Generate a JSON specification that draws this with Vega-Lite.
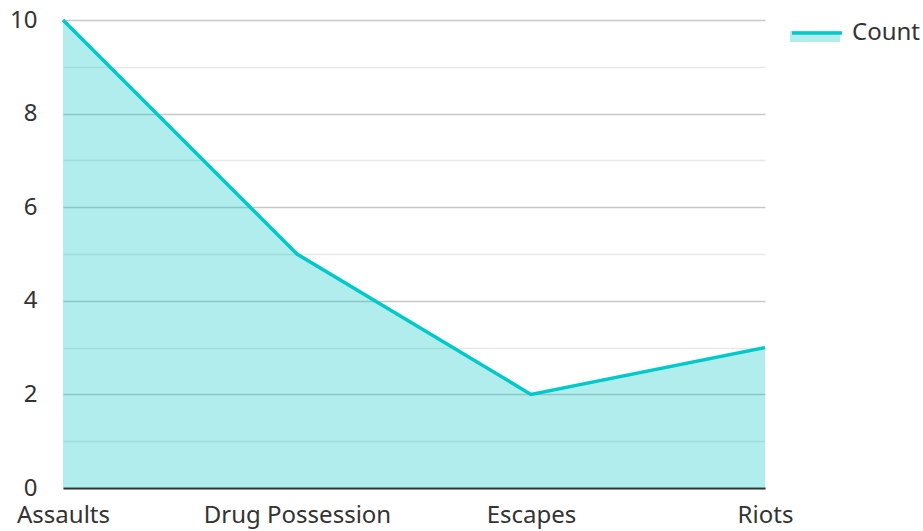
{
  "$schema": "https://vega.github.io/schema/vega-lite/v6.json",
  "width": 702,
  "height": 468,
  "autosize": {"type": "none"},
  "padding": {"left": 63, "top": 20, "right": 158, "bottom": 43},
  "background": "white",
  "config": {
    "view": {"stroke": null},
    "font": "Noto Sans",
    "axis": {"labelFont": "Noto Sans", "labelFontSize": 24, "labelColor": "#333333", "title": null, "labelLimit": 400},
    "legend": {"labelFont": "Noto Sans", "labelFontSize": 24, "labelColor": "#333333"}
  },
  "data": {
    "values": [
      {"category": "Assaults", "value": 10, "series": "Count"},
      {"category": "Drug Possession", "value": 5, "series": "Count"},
      {"category": "Escapes", "value": 2, "series": "Count"},
      {"category": "Riots", "value": 3, "series": "Count"}
    ]
  },
  "encoding": {
    "x": {
      "field": "category",
      "type": "ordinal",
      "sort": null,
      "scale": {"type": "point", "padding": 0},
      "axis": {
        "labelAngle": 0,
        "ticks": false,
        "grid": false,
        "domain": true,
        "domainColor": "#333333",
        "domainWidth": 2,
        "labelPadding": 15
      }
    },
    "y": {
      "field": "value",
      "type": "quantitative",
      "scale": {"domain": [0, 10], "nice": false},
      "axis": {
        "values": [0, 1, 2, 3, 4, 5, 6, 7, 8, 9, 10],
        "labelExpr": "datum.value % 2 === 1 ? '' : datum.label",
        "ticks": false,
        "domain": false,
        "grid": true,
        "gridColor": {"condition": {"test": "datum.value % 2 === 1", "value": "#e8e8e8"}, "value": "#c8c8c8"},
        "gridWidth": 1.5,
        "labelPadding": 26
      }
    }
  },
  "layer": [
    {
      "mark": {"type": "area", "opacity": 0.3},
      "encoding": {
        "fill": {
          "field": "series",
          "type": "nominal",
          "scale": {"range": ["#00C5C5"]},
          "legend": {
            "title": null,
            "orient": "none",
            "legendX": 727,
            "legendY": -14,
            "symbolType": "M-1,0 L1,0 L1,0.44 L-1,0.44 Z",
            "symbolSize": 2500,
            "symbolOpacity": 0.3,
            "symbolStrokeWidth": 0,
            "labelExpr": "''"
          }
        }
      }
    },
    {
      "mark": {"type": "line", "strokeWidth": 3.5},
      "encoding": {
        "stroke": {
          "field": "series",
          "type": "nominal",
          "scale": {"domain": ["Count"], "range": ["#00C9C9"]},
          "legend": {
            "title": null,
            "orient": "none",
            "legendX": 727,
            "legendY": -14,
            "symbolType": "stroke",
            "symbolSize": 2500,
            "symbolStrokeWidth": 3.5,
            "labelOffset": 8
          }
        }
      }
    }
  ]
}
